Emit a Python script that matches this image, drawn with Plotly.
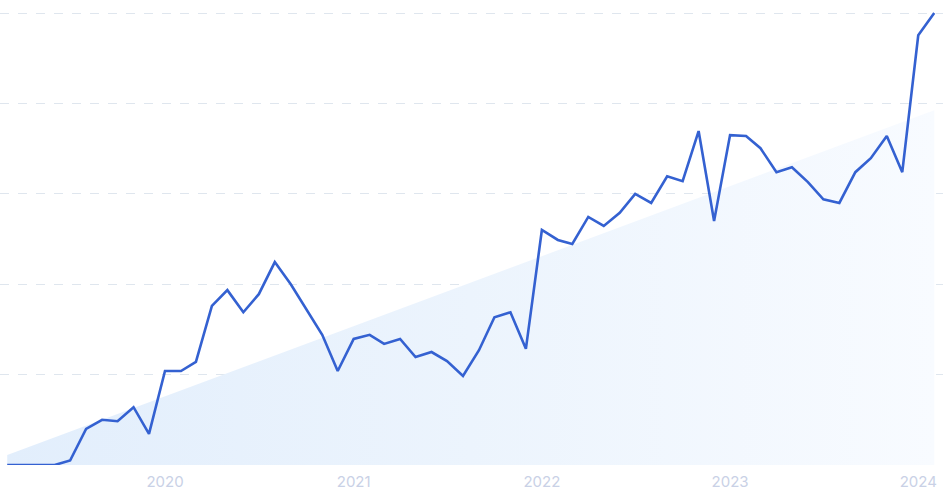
import plotly.graph_objects as go
import pandas as pd

# Monthly dates Mar 2019 .. Feb 2024
months = pd.date_range("2019-03-01", "2024-02-01", freq="MS").strftime("%Y-%m-%d").tolist()

values = [0, 0, 0, 0, 1, 8, 10, 9.7, 12.8, 6.9,
          20.8, 20.8, 22.8, 35.2, 38.7, 33.8, 37.8, 44.9, 40.0, 34.5,
          28.8, 20.8, 27.9, 28.8, 26.8, 27.9, 23.9, 25.0, 23.0, 19.7,
          25.4, 32.7, 33.8, 25.7, 52.0, 49.8, 48.9, 54.9, 52.9, 55.8,
          60.0, 58.0, 63.9, 62.8, 73.9, 54.0, 73.0, 72.8, 70.1, 64.8,
          65.9, 62.6, 58.8, 58.0, 64.8, 67.9, 72.8, 64.8, 95.1, 100.0]

trend_start, trend_end = 2.2, 78.5

tick_vals = ["2020-01-01", "2021-01-01", "2022-01-01", "2023-01-01", "2024-01-01"]
tick_text = ["2020", "2021", "2022", "2023", "2024"]
grid_vals = [0, 20, 40, 60, 80, 100]

fig = go.Figure()

fig.add_trace(go.Scatter(
    x=[months[0], months[-1], months[-1], months[0]],
    y=[trend_start, trend_end, 0, 0],
    mode="lines", fill="toself",
    line=dict(width=0, color="rgba(0,0,0,0)"),
    fillgradient=dict(type="horizontal",
                      colorscale=[[0, "#e2eefc"], [0.5, "#ecf4fd"], [1, "#f8fbff"]]),
    hoverinfo="skip", showlegend=False,
))

fig.add_trace(go.Scatter(
    x=months, y=values, mode="lines",
    line=dict(color="#3461d1", width=2.6),
    showlegend=False,
))

fig.update_layout(
    width=943, height=495,
    margin=dict(l=0, r=0, t=0, b=30),
    paper_bgcolor="white", plot_bgcolor="white",
    font=dict(family="Inter, Lato, sans-serif"),
)
fig.update_xaxes(
    range=["2019-02-15", "2024-02-18"],
    tickvals=tick_vals, ticktext=tick_text,
    showgrid=False, zeroline=False, showline=False,
    ticks="outside", ticklen=3, tickcolor="rgba(0,0,0,0)",
    tickfont=dict(size=15, color="#c9d1e6"),
)
fig.update_yaxes(
    range=[0, 102.9],
    tickvals=grid_vals, showticklabels=False,
    showgrid=True, gridcolor="#dfe6ee", griddash="dash", gridwidth=1,
    zeroline=False, showline=False,
)

fig.write_html("out.html",
               config={"displayModeBar": False},
               post_script="document.body.style.margin='0';document.body.style.overflow='hidden';")
